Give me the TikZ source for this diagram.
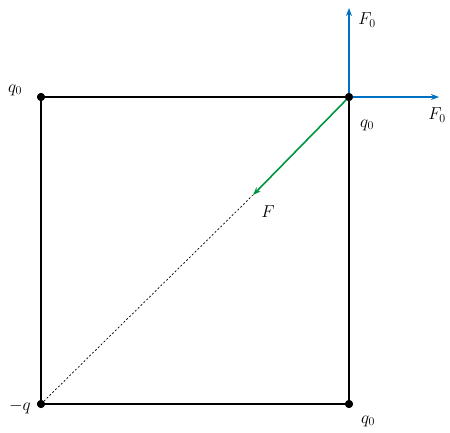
\documentclass[tikz,border=0pt]{standalone}
\usetikzlibrary{arrows.meta}
\definecolor{fblue}{RGB}{0,112,192}
\definecolor{fgreen}{RGB}{0,150,64}
\begin{document}
\begin{tikzpicture}[x=1pt,y=-1pt,
  dot/.style={circle,fill=black,inner sep=0pt,minimum size=8pt},
  lbl/.style={font=\fontsize{17}{20}\selectfont},
  side/.style={line width=1.1pt},
  force/.style={line width=1.6pt,-{Stealth[length=8pt,width=6pt]}}]
\useasboundingbox (0,0) rectangle (450,433);
\node[dot] (tl) at (41,97) {};
\node[dot] (tr) at (349,97) {};
\node[dot] (bl) at (41,404) {};
\node[dot] (br) at (349,404) {};
\coordinate (up) at (349,8);
\coordinate (rt) at (439,97);
\coordinate (ft) at (253,195);
\draw[side] (tl.center) -- (tr.center) -- (br.center) -- (bl.center) -- cycle;
\draw[dash pattern=on 2pt off 2pt, line width=0.7pt] (bl.center) -- (ft);
\draw[force, fblue] (tr.center) -- (up);
\draw[force, fblue] (tr.center) -- (rt);
\draw[force, fgreen] (tr.center) -- (ft);
\node[dot] at (tl) {};
\node[dot] at (tr) {};
\node[dot] at (bl) {};
\node[dot] at (br) {};
\node[lbl] (l1) at (15,90) {$q_0$};
\node[lbl] (l2) at (367,125) {$q_0$};
\node[lbl] (l3) at (20,407) {$-q$};
\node[lbl] (l4) at (368,421) {$q_0$};
\node[lbl] (l5) at (367,20) {$F_0$};
\node[lbl] (l6) at (437,115) {$F_0$};
\node[lbl] (l7) at (268,212) {$F$};
\end{tikzpicture}
\end{document}
